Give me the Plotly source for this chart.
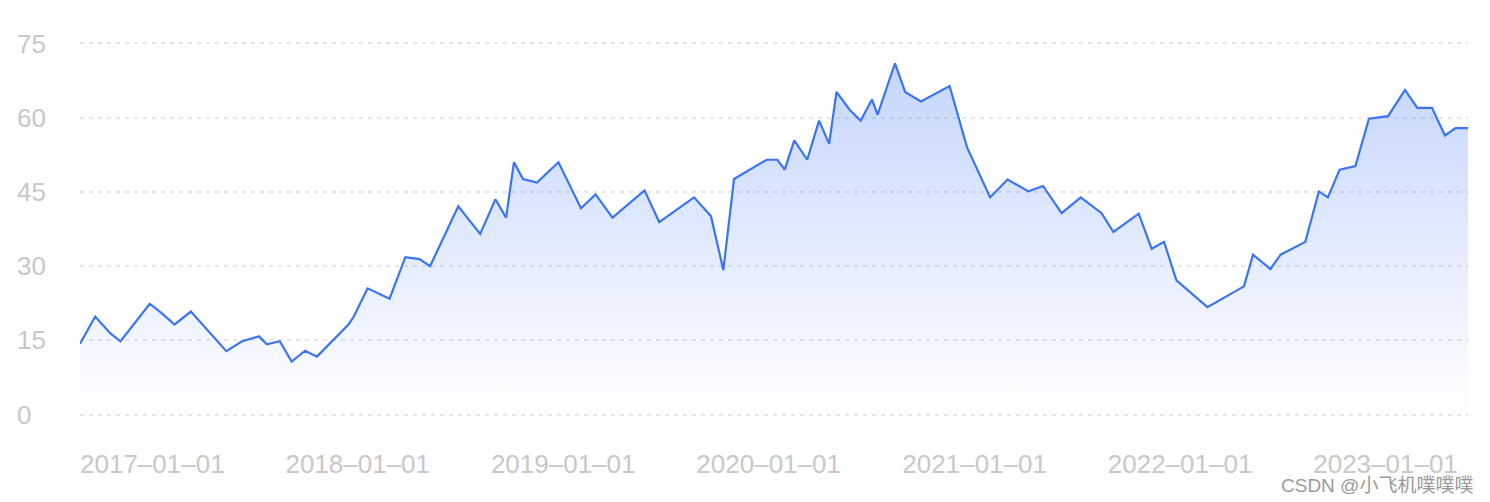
import plotly.graph_objects as go

# data
dates = [
    "2017-01-01", "2017-01-28", "2017-02-24", "2017-03-14", "2017-05-05",
    "2017-05-27", "2017-06-18", "2017-07-17", "2017-09-18", "2017-10-16",
    "2017-11-15", "2017-11-29", "2017-12-22", "2018-01-12", "2018-02-05",
    "2018-02-26", "2018-04-23", "2018-05-02", "2018-05-27", "2018-07-05",
    "2018-08-02", "2018-08-27", "2018-09-15", "2018-11-04", "2018-12-13",
    "2019-01-09", "2019-01-28", "2019-02-11", "2019-02-27", "2019-03-24",
    "2019-05-01", "2019-06-10", "2019-07-06", "2019-08-05", "2019-10-01",
    "2019-10-27", "2019-12-28", "2020-01-27", "2020-02-18", "2020-03-08",
    "2020-05-05", "2020-05-24", "2020-06-06", "2020-06-23", "2020-07-16",
    "2020-08-06", "2020-08-24", "2020-09-06", "2020-09-30", "2020-10-19",
    "2020-11-08", "2020-11-18", "2020-12-19", "2021-01-06", "2021-02-03",
    "2021-03-26", "2021-04-26", "2021-06-06", "2021-07-07", "2021-08-13",
    "2021-09-08", "2021-10-11", "2021-11-14", "2021-12-21", "2022-01-11",
    "2022-02-25", "2022-03-20", "2022-04-11", "2022-05-03", "2022-06-27",
    "2022-08-31", "2022-09-16", "2022-10-17", "2022-11-04", "2022-12-18",
    "2023-01-11", "2023-01-27", "2023-02-17", "2023-03-17", "2023-04-10",
    "2023-05-14", "2023-06-13", "2023-07-05", "2023-07-31", "2023-08-23",
    "2023-09-11", "2023-10-03",
]
values = [
    14.3, 19.8, 16.4, 14.8, 22.4,
    20.4, 18.2, 20.8, 12.8, 14.8,
    15.8, 14.2, 14.8, 10.7, 12.9,
    11.7, 18.2, 19.7, 25.5, 23.4,
    31.8, 31.4, 30.0, 42.1, 36.5,
    43.5, 39.8, 51.0, 47.6, 46.9,
    51.0, 41.7, 44.5, 39.8, 45.3,
    38.9, 43.9, 40.1, 29.2, 47.6,
    51.5, 51.5, 49.5, 55.4, 51.5,
    59.4, 54.7, 65.2, 61.5, 59.4,
    63.7, 60.6, 71.0, 65.2, 63.3,
    66.4, 54.0, 43.9, 47.5, 45.1,
    46.2, 40.7, 43.9, 40.7, 36.9,
    40.6, 33.5, 34.9, 27.1, 21.7,
    25.9, 32.3, 29.4, 32.3, 34.9,
    45.1, 43.9, 49.5, 50.2, 59.8,
    60.3, 65.6, 62.0, 62.0, 56.4,
    57.9, 57.9,
]
y_ticks = [0, 15, 30, 45, 60, 75]
watermark = "CSDN @小飞机噗噗噗"

label_font = dict(family="Liberation Sans, Arial, sans-serif", size=26, color="#c8c8c8")

fig = go.Figure()

fig.add_trace(go.Scatter(
    x=dates,
    y=values,
    mode="lines",
    line=dict(color="#3b74f3", width=2.2),
    fill="tozeroy",
    fillgradient=dict(
        type="vertical",
        start=0,
        stop=max(values),
        colorscale=[[0, "rgba(61,118,243,0)"], [1, "rgba(61,118,243,0.30)"]],
    ),
    hoverinfo="skip",
    showlegend=False,
))

# watermark in the bottom right corner
fig.add_annotation(
    text=watermark,
    xref="paper", yref="paper",
    x=1, y=0,
    xanchor="right", yanchor="middle",
    xshift=7, yshift=-69,
    showarrow=False,
    font=dict(family="Liberation Sans, Noto Sans CJK SC, sans-serif", size=19, color="#9a9a9a"),
)

# page body has an 8px margin, so the figure is 8px smaller than the window
fig.update_layout(
    width=1482,
    height=494,
    margin=dict(l=5, r=22, t=34, b=86),
    paper_bgcolor="white",
    plot_bgcolor="white",
    xaxis=dict(
        type="date",
        domain=[67 / 1455, 1],
        range=[dates[0], dates[-1]],
        tick0="2017-01-01",
        dtick="M12",
        tickformat="%Y–%m–%d",
        ticklabelposition="outside right",
        ticklabelstandoff=30,
        showgrid=False,
        zeroline=False,
        showline=False,
        tickfont=label_font,
    ),
    yaxis=dict(
        # a little padding so the 0 and 75 grid lines are not clipped
        range=[-0.3, 75.3],
        tickvals=y_ticks,
        anchor="free",
        position=0,
        ticklabelposition="inside",
        ticklabeloverflow="allow",
        showgrid=True,
        gridcolor="#e6e6e6",
        gridwidth=2,
        griddash="4px,5px",
        zeroline=False,
        showline=False,
        tickfont=label_font,
    ),
)

fig.write_html("out.html")
